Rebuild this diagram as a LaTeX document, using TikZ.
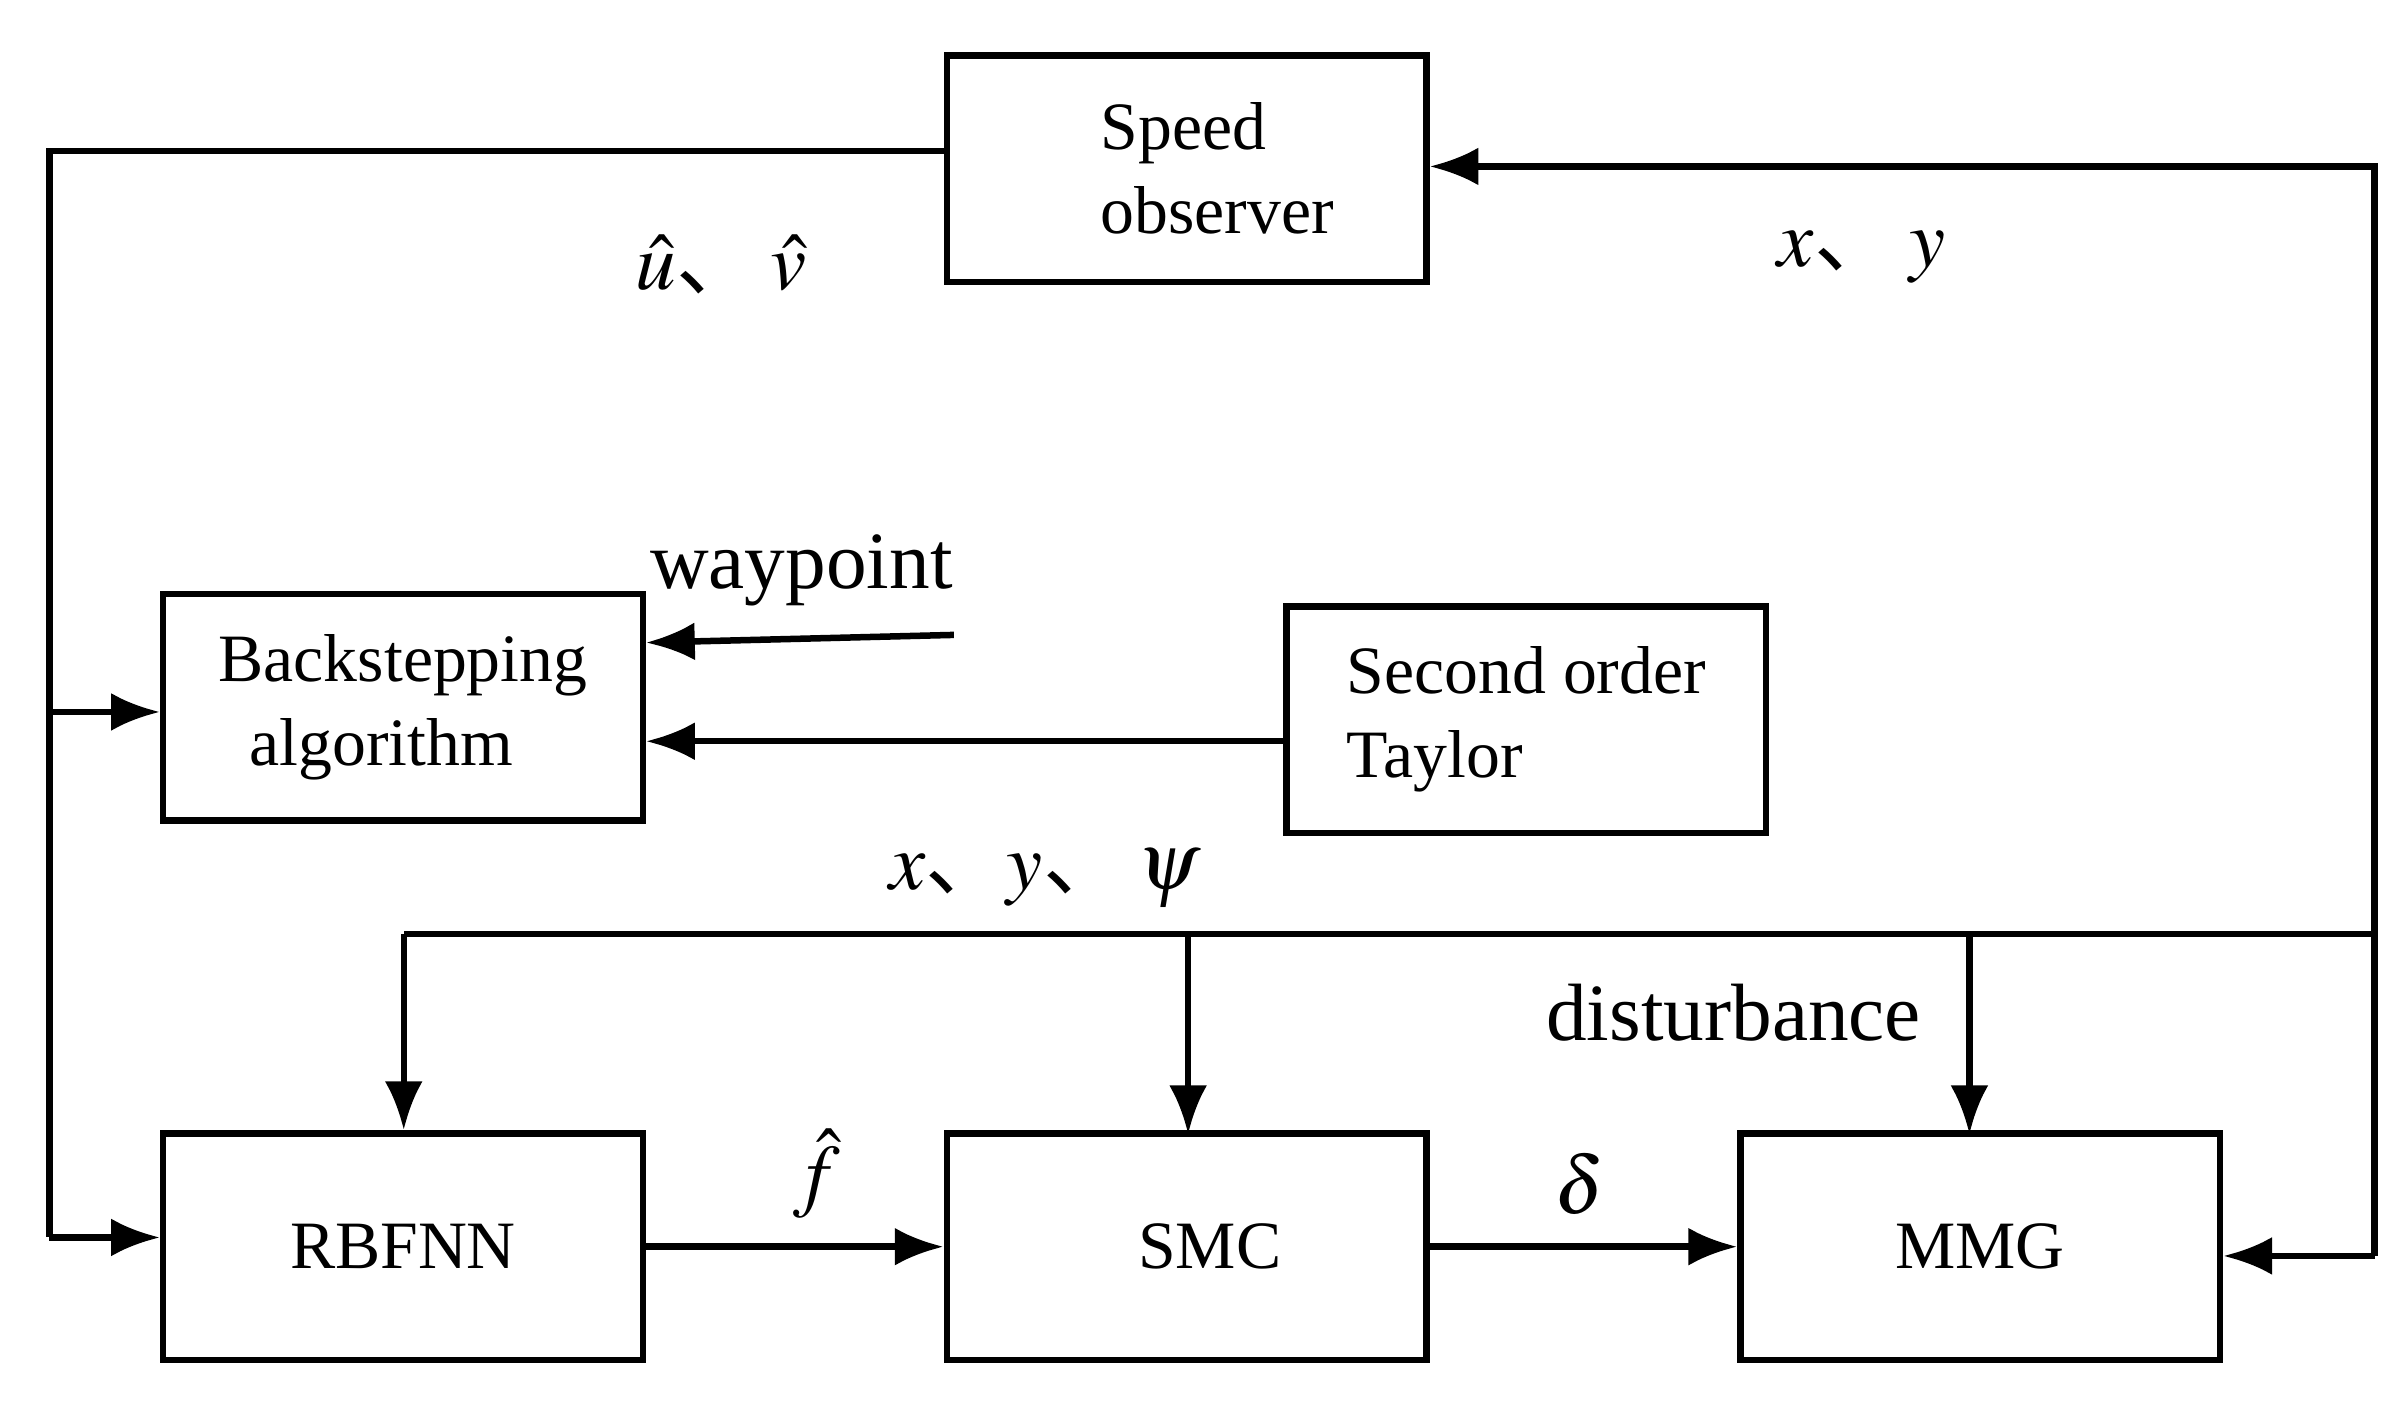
\documentclass[tikz,border=0pt]{standalone}
\usepackage{mathptmx}
\usepackage{fontspec}
\setmainfont{Liberation Serif}
\newfontfamily\cjk{Noto Sans CJK SC}
\usetikzlibrary{arrows.meta}
\newcommand{\dun}{{\cjk 、}}
\begin{document}
\begin{tikzpicture}[x=0.01cm,y=-0.01cm,
  blk/.style={draw,line width=1.2pt,minimum width=3.11cm,minimum height=1.47cm,
    font=\fontsize{12.5}{15.5}\selectfont,align=left},
  ln/.style={line width=1.2pt},
  ar/.style={ln,-{Latex[length=9pt,width=7pt]}},
  lab/.style={font=\fontsize{15}{18}\selectfont}]
\useasboundingbox (0,0) rectangle (1560,909);
\node[blk] (so) at (770,109.5) {\hspace*{4mm}Speed\\\hspace*{4mm}observer};
\node[blk] (bs) at (261.5,459) {Backstepping\\\hspace*{2mm}algorithm};
\node[blk] (ta) at (990.5,467) {Second order\\Taylor};
\node[blk] (rb) at (261.5,809) {RBFNN};
\node[blk] (smc) at (770,809) {\hspace*{3mm}SMC};
\node[blk] (mmg) at (1285,809) {MMG};
% left feedback
\coordinate (l1) at (32,98); \coordinate (l2) at (32,803); \coordinate (lb) at (32,462);
\draw[ln] (so.west |- l1) -- (l1) -- (l2);
\draw[ar] (l2) -- (rb.west |- l2);
\draw[ar] (lb) -- (bs.west |- lb);
% right feedback
\coordinate (r1) at (1541,815); \coordinate (r2) at (1541,108);
\draw[ar] (r1) -- (mmg.east |- r1);
\draw[ar] (r1) -- (r2) -- (so.east |- r2);
\coordinate (h1) at (1541,606); \coordinate (h2) at (262,606);
\draw[ln] (h1) -- (h2);
\draw[ar] (h2) -- (h2 |- rb.north);
\draw[ar] (771,606) -- (771,736);
\draw[ar] (1278,606) -- (1278,736);
% others
\coordinate (wp) at (619,412);
\draw[ar] (wp) -- (bs.east |- 0,417);
\draw[ar] (ta.west |- 0,481) -- (bs.east |- 0,481);
\draw[ar] (rb.east) -- (smc.west);
\draw[ar] (smc.east) -- (mmg.west);
% labels
\node[lab] (lw) at (520,370) {waypoint};
\node[lab] (luv) at (468,172) {$\hat{u}$\dun\,$\hat{v}$};
\node[lab] (lxy) at (1208,167) {$x$\dun\,$y$};
\node[lab] (lxyp) at (678,570) {$x$\dun$y$\dun\,$\psi$};
\node[lab] (ld) at (1125,657) {disturbance};
\node[lab] (lf) at (530,762) {$\hat{f}$};
\node[lab] (ldel) at (1025,768) {$\delta$};
\end{tikzpicture}
\end{document}
